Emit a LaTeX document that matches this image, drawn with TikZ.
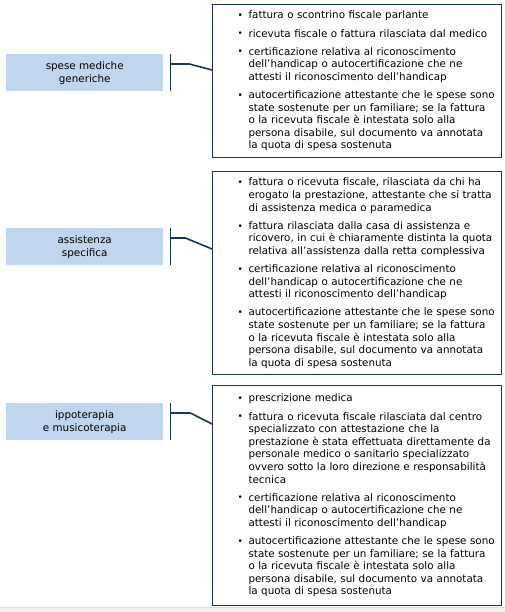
\documentclass[tikz,border=0pt]{standalone}
\usepackage{fontspec}
\setmainfont{DejaVu Sans}
\usetikzlibrary{calc}
\definecolor{navy}{RGB}{23,54,93}
\definecolor{lblue}{RGB}{192,213,238}
\definecolor{stripgrey}{RGB}{240,240,240}
\newcommand{\bdot}{\makebox[11pt][l]{\raisebox{0.2pt}{\fontsize{9}{9}\selectfont\textbullet}}}
\newcommand{\itm}[1]{\noindent\hangindent=11pt\hangafter=1\bdot#1\par}
\newcommand{\nl}{\newline}
\newcommand{\docsetup}{\leftskip=19pt\rightskip=0pt plus 1fil\parskip=5.5pt\parindent=0pt}
\tikzset{
  catbox/.style={fill=lblue, minimum width=157pt, minimum height=37pt, align=center,
    font=\fontsize{10.35}{13}\selectfont, inner sep=0pt, anchor=north west},
  docbox/.style={draw=navy, line width=1.1pt, fill=white, text width=277pt,
    inner xsep=6pt, inner ysep=6.5pt, anchor=north west,
    font=\fontsize{10.35}{12.6}\selectfont},
  brk/.style={draw=navy, line width=1.8pt},
  link/.style={draw=navy, line width=1.6pt, line join=round},
}
\begin{document}
\begin{tikzpicture}[x=1pt,y=-1pt]
\useasboundingbox (0,0) rectangle (505,612);
\fill[white] (0,0) rectangle (505,612);
\fill[stripgrey] (0,608) rectangle (505,612);
\draw[black!15, line width=0.8pt] (0,607.8) -- (505,607.8);

% category boxes
\node[catbox] (l1) at (6,54) {spese mediche\\generiche};
\node[catbox] (l2) at (6,228) {assistenza\\specifica};
\node[catbox] (l3) at (6,403) {ippoterapia\\e musicoterapia};

% document boxes
\node[docbox] (r1) at (212,4) {\docsetup
\itm{fattura o scontrino fiscale parlante}
\itm{ricevuta fiscale o fattura rilasciata dal medico}
\itm{certificazione relativa al riconoscimento\nl dell’handicap o autocertificazione che ne\nl attesti il riconoscimento dell’handicap}
\itm{autocertificazione attestante che le spese sono\nl state sostenute per un familiare; se la fattura\nl o la ricevuta fiscale è intestata solo alla\nl persona disabile, sul documento va annotata\nl la quota di spesa sostenuta}};

\node[docbox] (r2) at (212,171) {\docsetup
\itm{fattura o ricevuta fiscale, rilasciata da chi ha\nl erogato la prestazione, attestante che si tratta\nl di assistenza medica o paramedica}
\itm{fattura rilasciata dalla casa di assistenza e\nl ricovero, in cui è chiaramente distinta la quota\nl relativa all’assistenza dalla retta complessiva}
\itm{certificazione relativa al riconoscimento\nl dell’handicap o autocertificazione che ne\nl attesti il riconoscimento dell’handicap}
\itm{autocertificazione attestante che le spese sono\nl state sostenute per un familiare; se la fattura\nl o la ricevuta fiscale è intestata solo alla\nl persona disabile, sul documento va annotata\nl la quota di spesa sostenuta}};

\node[docbox, inner ysep=8.5pt] (r3) at (212,385) {\docsetup
\itm{prescrizione medica}
\itm{fattura o ricevuta fiscale rilasciata dal centro\nl specializzato con attestazione che la\nl prestazione è stata effettuata direttamente da\nl personale medico o sanitario specializzato\nl ovvero sotto la loro direzione e responsabilità\nl tecnica}
\itm{certificazione relativa al riconoscimento\nl dell’handicap o autocertificazione che ne\nl attesti il riconoscimento dell’handicap}
\itm{autocertificazione attestante che le spese sono\nl state sostenute per un familiare; se la fattura\nl o la ricevuta fiscale è intestata solo alla\nl persona disabile, sul documento va annotata\nl la quota di spesa sostenuta}};

% brackets and connectors
\draw[brk] ($(l1.north east)+(7,0)$) -- ($(l1.south east)+(7,0)$);
\coordinate (s1) at ($(l1.north east)+(7,10)$);
\coordinate (k1) at ($(l1.north east)+(26,10)$);
\coordinate (e1) at ($(r1.north west)+(0,66)$);
\draw[link] (s1) -- (k1) -- (e1);

\draw[brk] ($(l2.north east)+(7,0)$) -- ($(l2.south east)+(7,0)$);
\coordinate (s2) at ($(l2.north east)+(7,10)$);
\coordinate (k2) at ($(l2.north east)+(22,10)$);
\coordinate (e2) at ($(r2.north west)+(0,78)$);
\draw[link] (s2) -- (k2) -- (e2);

\draw[brk] ($(l3.north east)+(7,0)$) -- ($(l3.south east)+(7,0)$);
\coordinate (s3) at ($(l3.north east)+(7,10)$);
\coordinate (k3) at ($(l3.north east)+(27,10)$);
\coordinate (e3) at ($(r3.north west)+(0,39)$);
\draw[link] (s3) -- (k3) -- (e3);
\end{tikzpicture}
\end{document}
